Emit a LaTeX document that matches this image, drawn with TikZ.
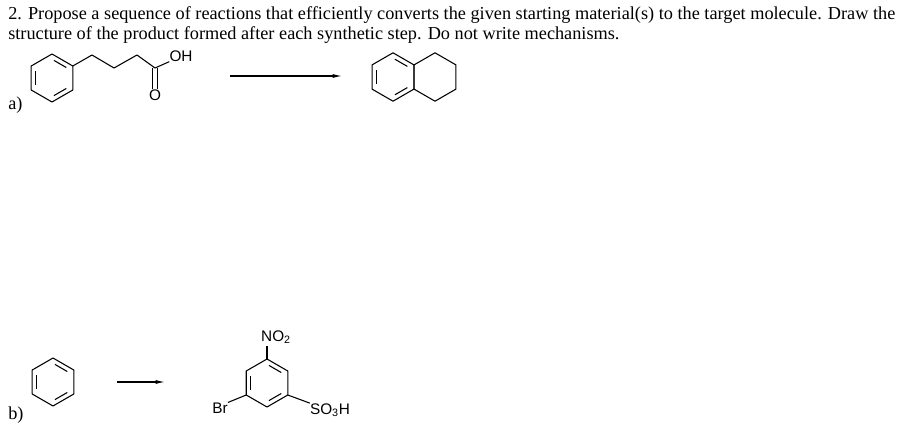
\documentclass[tikz,border=0pt]{standalone}
\usepackage{fontspec}
\setmainfont{Liberation Serif}
\newfontfamily\arial{Liberation Sans}
\usetikzlibrary{calc,arrows.meta}
\newcommand{\benzring}[3]{% center, radius, aromatic(1/0)
  \draw[bond] ($(#1)+(30:#2)$) -- ($(#1)+(90:#2)$) -- ($(#1)+(150:#2)$) -- ($(#1)+(210:#2)$) -- ($(#1)+(270:#2)$) -- ($(#1)+(330:#2)$) -- cycle;
  \ifnum#3=1
  \foreach \a/\b in {150/210,-90/-30,30/90}{
    \draw[bond] ($($(#1)+(\a:0.78*#2)$)!0.12!($(#1)+(\b:0.78*#2)$)$) -- ($($(#1)+(\a:0.78*#2)$)!0.88!($(#1)+(\b:0.78*#2)$)$);}
  \fi}
\begin{document}
\begin{tikzpicture}[x=0.75pt,y=-0.75pt,
  bond/.style={line width=0.8pt,line join=round},
  lbl/.style={font=\arial\fontsize{11.5}{13}\selectfont,inner sep=0pt},
  txt/.style={font=\fontsize{13.7}{16}\selectfont,inner sep=0pt,anchor=base west},
  arr/.style={line width=0.8pt,-{Latex[length=7pt,width=3pt]}}]
\useasboundingbox (0,0) rectangle (904,447);
\node[txt] (h1) at (8,19) {2. Propose a sequence of reactions that efficiently converts the given starting material(s) to the target molecule. Draw the};
\node[txt] (h2) at (8,39) {structure of the product formed after each synthetic step. Do not write mechanisms.};
\node[txt] (la) at (8,109) {a)};
\node[txt] (lb) at (8,419) {b)};
% (a) starting material
\coordinate (ra) at (52,78);
\benzring{ra}{24}{1}
\coordinate (c1) at (92,55);
\coordinate (c2) at (114,68);
\coordinate (c3) at (137,55);
\coordinate (cc) at (155,68);
\node[lbl] (oh) at (181,56) {OH};
\node[lbl] (o) at (155,95) {O};
\draw[bond] ($(ra)+(-30:24)$) -- (c1) -- (c2) -- (c3) -- (cc) -- (oh.south west);
\draw[bond] ([xshift=-1.6pt]cc) -- ([xshift=-1.6pt]o.north);
\draw[bond] ([xshift=1.6pt]cc) -- ([xshift=1.6pt]o.north);
% arrow a
\coordinate (a1) at (230,76);
\coordinate (a2) at (342,76);
\draw[arr] (a1) -- (a2);
% tetralin
\coordinate (t1) at (393,77);
\coordinate (t2) at (435,77);
\benzring{t1}{24.2}{1}
\benzring{t2}{24.2}{0}
% (b)
\coordinate (rb) at (53,382);
\benzring{rb}{24}{1}
\coordinate (b1) at (117,382);
\coordinate (b2) at (165,382);
\draw[arr] (b1) -- (b2);
\coordinate (rp) at (267,383);
\benzring{rp}{24}{1}
\node[lbl] (no2) at (276,337) {NO\textsubscript{2}};
\node[lbl] (br) at (220,408) {Br};
\node[lbl] (so3h) at (330,410) {SO\textsubscript{3}H};
\draw[bond] ($(rp)+(-90:24)$) -- (267,346);
\draw[bond] ($(rp)+(150:24)$) -- (br.north east);
\draw[bond] ($(rp)+(30:24)$) -- (so3h.north west);
\end{tikzpicture}
\end{document}
